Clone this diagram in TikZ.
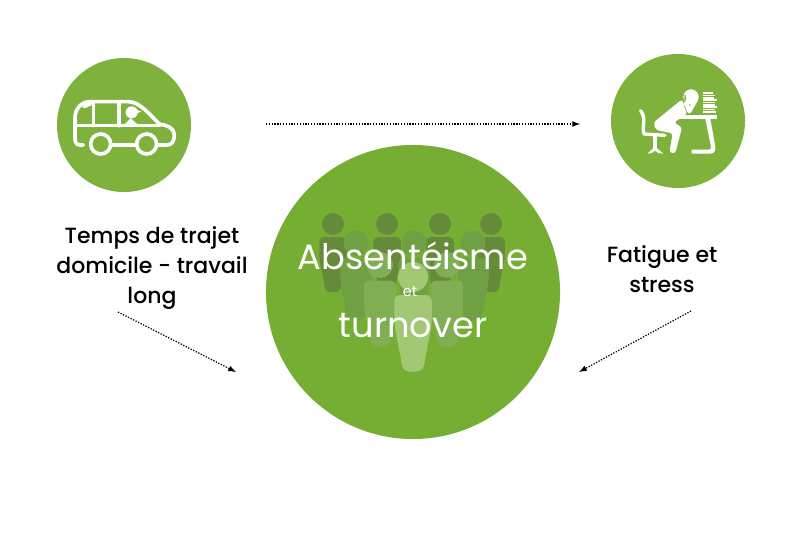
\documentclass[tikz,border=0pt]{standalone}
\usepackage{xcolor}
\usepackage{fontspec}
\usepackage{tikz}
\setmainfont{Poppins}
\newfontfamily\labelfont{Poppins Medium}
\definecolor{iconGreen}{HTML}{7FB23C}
\definecolor{mainGreen}{HTML}{76AD33}
\definecolor{personA}{HTML}{648A3A}
\definecolor{personB}{HTML}{70A044}
\definecolor{personC}{HTML}{80AE52}
\definecolor{personD}{HTML}{A3C873}
\tikzset{
  discnode/.style={circle, inner sep=0pt, fill=iconGreen},
  labelnode/.style={black, align=center, inner sep=0pt, font=\labelfont\fontsize{0.55cm}{0.75cm}\selectfont},
  titlenode/.style={white, inner sep=0pt, font=\fontsize{0.88cm}{1cm}\selectfont},
  dotarrow/.style={line width=0.9pt, dash pattern=on 0.9pt off 1.1pt, -latex},
  iconline/.style={white, line width=2.6pt, line join=round, line cap=round},
}
\newcommand{\person}[5]{%
\fill[#5] (#1, #2) circle (#3);%
\fill[#5, rounded corners=#3*0.4*0.025cm] (#1-#3*1.25, #2+#3*1.2) -- (#1+#3*1.25, #2+#3*1.2) -- (#1+#3*1.25, #2+#3*#4*0.5) -- (#1+#3*0.65, #2+#3*#4) -- (#1-#3*0.65, #2+#3*#4) -- (#1-#3*1.25, #2+#3*#4*0.5) -- cycle;%
}
\begin{document}
\begin{tikzpicture}[x=0.025cm, y=-0.025cm]%
\useasboundingbox (0, 0) rectangle (800, 550);%
\node[discnode, minimum size=3.35cm] (carDisc) at (124, 125) {};%
\node[discnode, minimum size=3.35cm] (deskDisc) at (678, 121) {};%
\node[discnode, fill=mainGreen, minimum size=7.35cm] (mainDisc) at (413, 292) {};%
\person{333}{224}{11}{6.2}{personA}%
\person{387}{224}{11}{6.2}{personA}%
\person{440}{224}{11}{6.2}{personA}%
\person{491}{224}{11}{6.2}{personA}%
\person{356}{243}{12.5}{6.2}{personB}%
\person{414}{243}{12.5}{6.2}{personB}%
\person{473}{243}{12.5}{6.2}{personB}%
\person{380}{265}{13}{6.3}{personC}%
\person{447}{265}{13}{6.3}{personC}%
\person{413}{277}{15}{6.3}{personD}%
\begin{scope}[shift={(40, 60)}, scale=0.3333]%
\draw[iconline] (130, 255) -- (120, 255) .. controls (108, 255) and (105, 245) .. (105, 235) -- (105, 175) .. controls (105, 145) and (125, 125) .. (150, 125) -- (265, 125) .. controls (300, 125) and (330, 165) .. (358, 192) .. controls (385, 197) and (403, 205) .. (403, 225) .. controls (403, 245) and (395, 255) .. (380, 255) -- (352, 255);%
\draw[iconline] (213, 255) -- (288, 255);%
\draw[iconline] (107, 197) -- (358, 197);%
\draw[iconline] (160, 127) -- (160, 197);%
\draw[iconline] (238, 127) -- (238, 197);%
\draw[iconline] (132, 140) -- (160, 127);%
\draw[iconline] (182, 252) circle (30);%
\draw[iconline] (320, 252) circle (30);%
\fill[white] (275, 157) circle (18);%
\fill[white] (280, 145) -- (304, 155) -- (285, 162) -- cycle;%
\fill[white] (252, 195) -- (272, 175) -- (295, 195) -- cycle;%
\fill[iconGreen] (378, 212) -- (392, 216) -- (382, 222) -- cycle;%
\end{scope}%
\begin{scope}[shift={(600, 50)}, scale=0.3333]%
\fill[white] (273, 141) circle (23);%
\fill[white, rounded corners=2pt] (246, 148) -- (262, 190) -- (222, 218) -- (246, 232) -- (226, 310) -- (208, 308) -- (218, 250) -- (168, 240) -- (160, 218) -- cycle;%
\draw[iconGreen, line width=1pt] (256, 135) -- (254, 168) -- (268, 196);%
\draw[iconGreen, line width=1pt] (296, 150) -- (272, 192);%
\draw[white, line width=3pt, line cap=round, line join=round] (288, 148) -- (268, 184) -- (258, 160);%
\draw[iconline, line width=2.4pt] (122, 182) .. controls (140, 205) and (125, 230) .. (132, 252) -- (195, 256);%
\draw[iconline, line width=3pt] (165, 258) -- (165, 296);%
\fill[white] (142, 311) -- (165, 290) -- (190, 311) -- (175, 309) -- (165, 302) -- (155, 309) -- cycle;%
\fill[white] (235, 195) rectangle (352, 207);%
\fill[white] (316, 207) -- (331, 207) -- (346, 290) .. controls (348, 305) and (340, 311) .. (330, 311) -- (275, 311) -- (275, 299) -- (328, 299) .. controls (334, 299) and (334, 292) .. (332, 285) -- cycle;%
\foreach \ybook/\xbook in {127/340, 134/346, 141/342, 148/351, 155/346, 162/344, 169/350, 176/346, 183/348}{%
\fill[white] (308, \ybook) rectangle (\xbook, \ybook+5.5);%
}%
\end{scope}%
\node[titlenode] (titleTop) at (413, 256) {Absentéisme};%
\node[white, inner sep=0pt, font=\fontsize{0.36cm}{0.4cm}\selectfont] (titleMid) at (410, 292) {et};%
\node[titlenode] (titleBottom) at (413, 326) {turnover};%
\node[labelnode] (carText) at (152, 268) {Temps de trajet\\domicile - travail\\long};%
\node[labelnode] (stressText) at (662, 269) {Fatigue et\\stress};%
\coordinate (topStart) at (266, 124);%
\coordinate (topEnd) at (580, 124);%
\coordinate (leftStart) at (118, 312);%
\coordinate (leftEnd) at (236, 372);%
\coordinate (rightStart) at (691, 311);%
\coordinate (rightEnd) at (579, 372);%
\draw[dotarrow] (topStart) -- (topEnd);%
\draw[dotarrow] (leftStart) -- (leftEnd);%
\draw[dotarrow] (rightStart) -- (rightEnd);%
\end{tikzpicture}
\end{document}
